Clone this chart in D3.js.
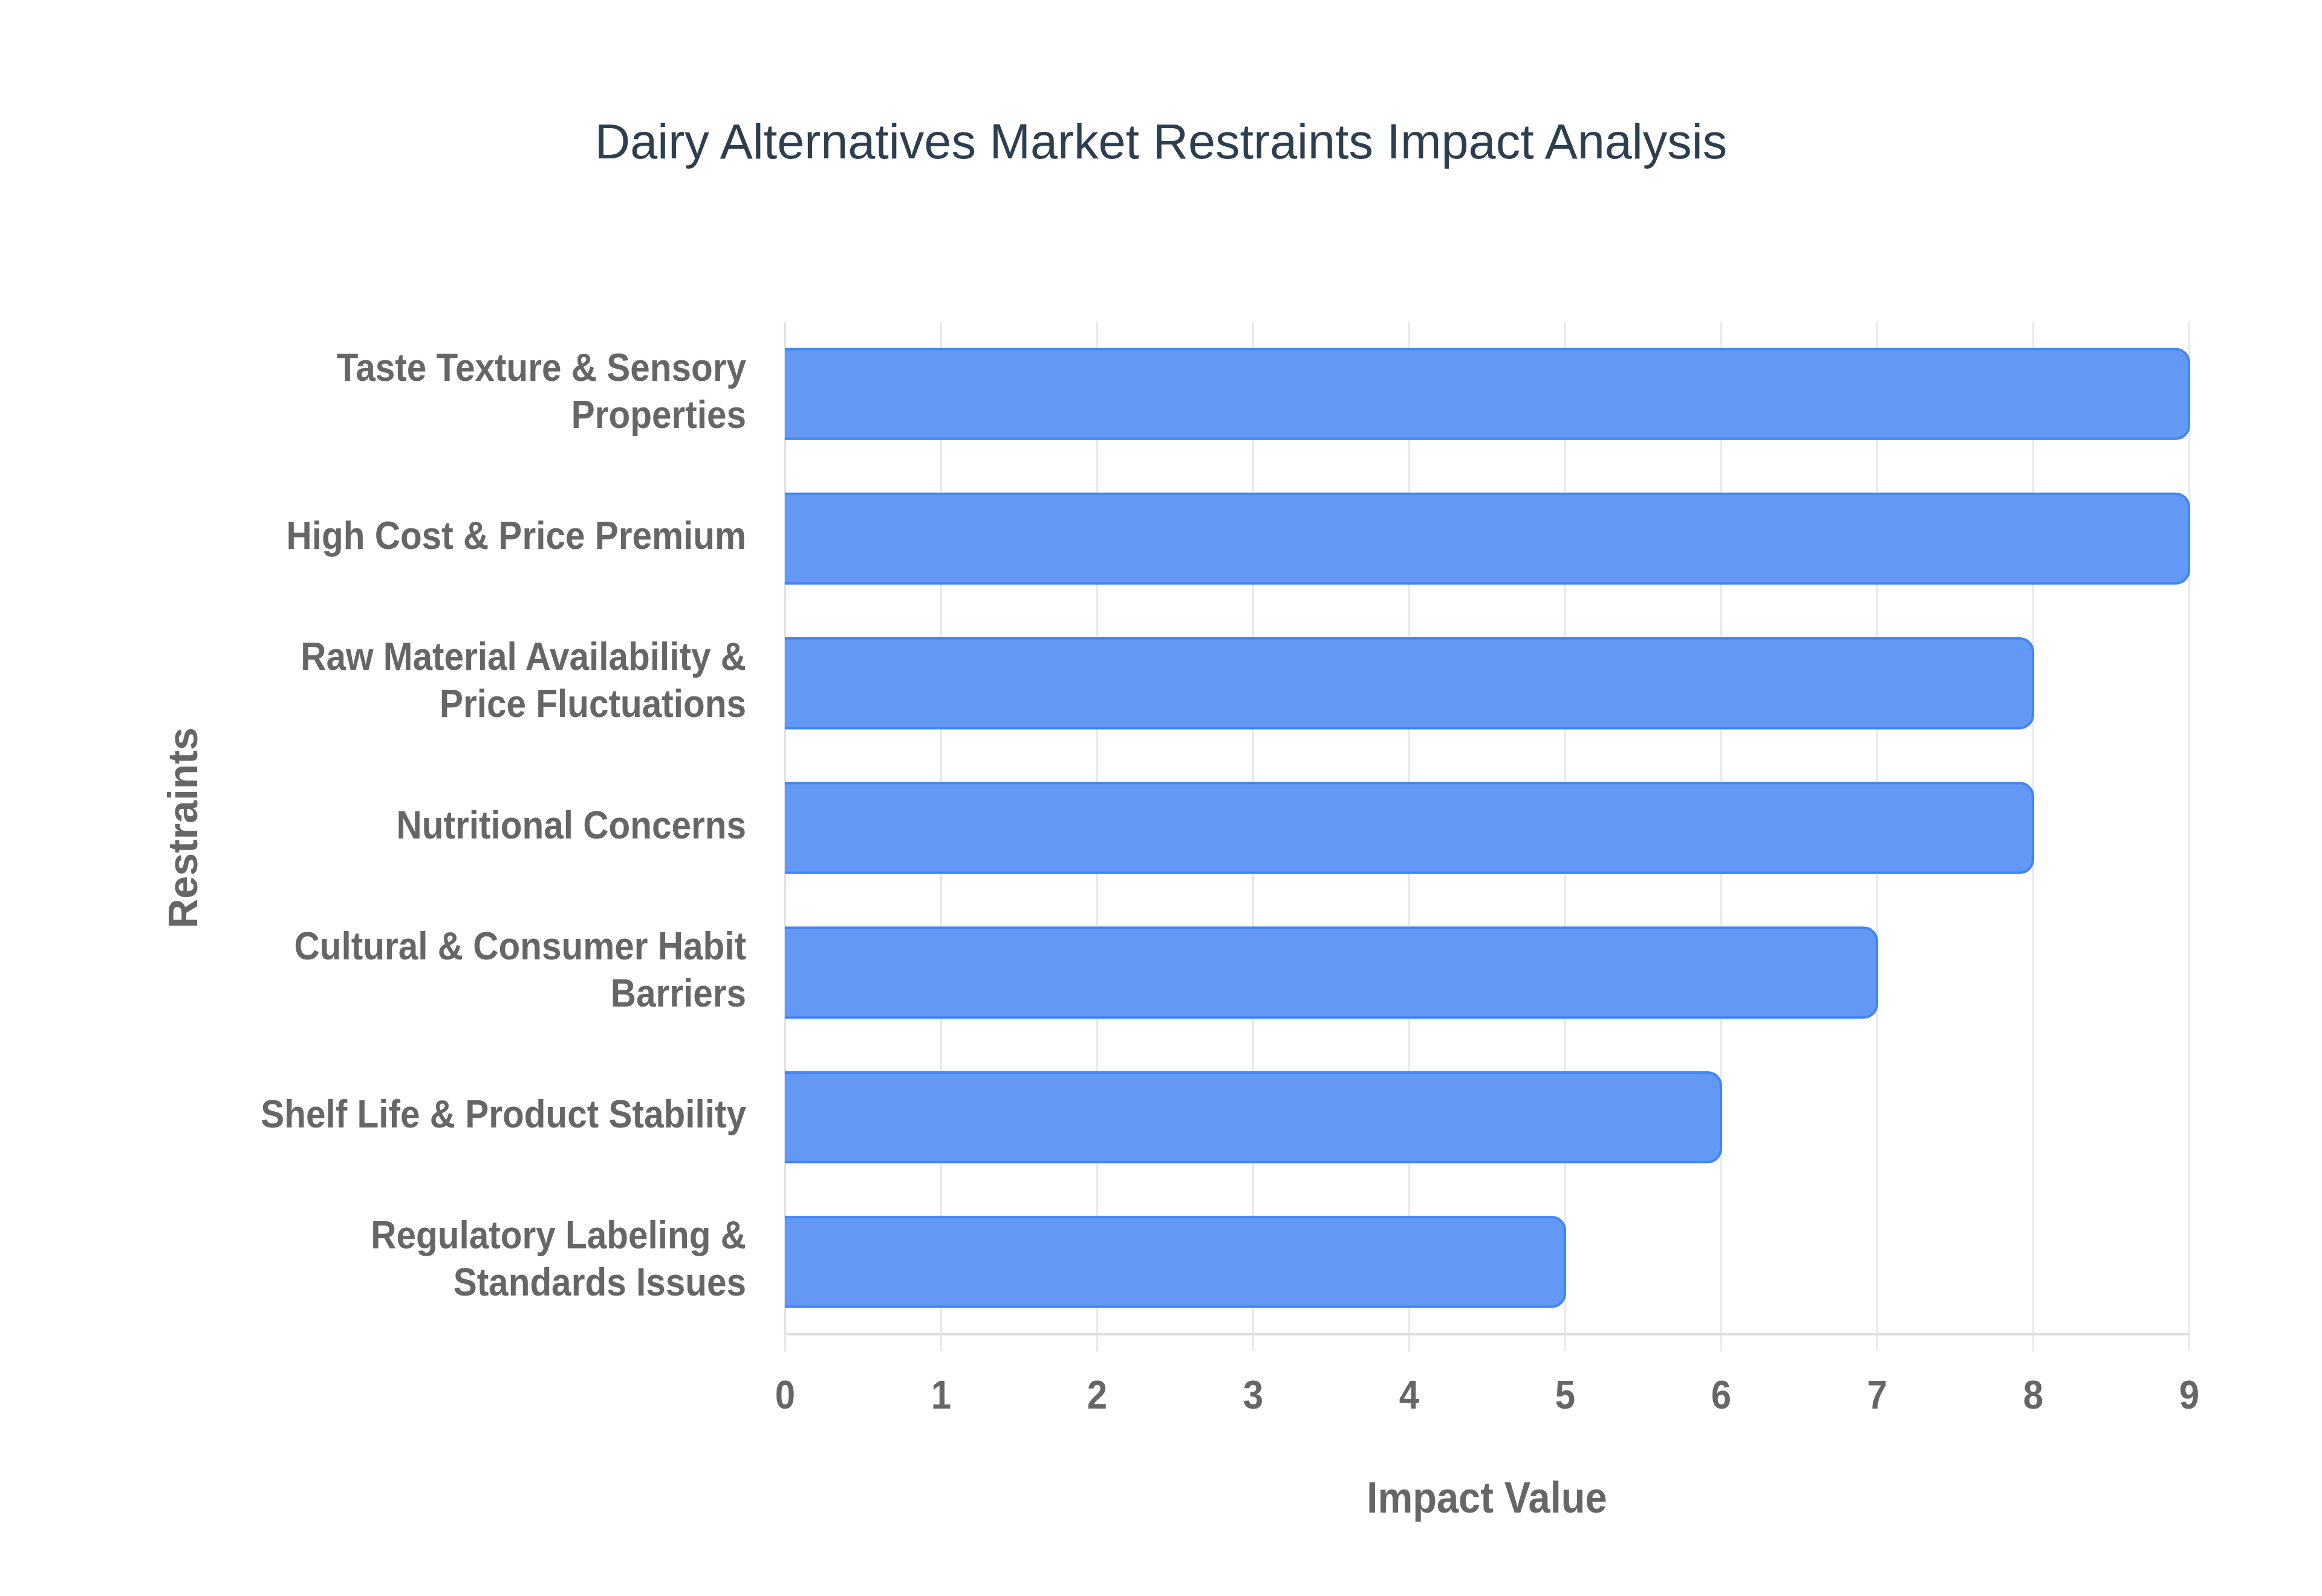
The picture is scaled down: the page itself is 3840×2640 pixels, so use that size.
<!DOCTYPE html>
<html>
<head>
<meta charset="utf-8">
<script src="https://cdn.jsdelivr.net/npm/d3@7"></script>
<style>
  html, body { margin: 0; padding: 0; background: #ffffff; }
  svg { display: block; font-family: "Liberation Sans", Arial, Helvetica, sans-serif; }
</style>
</head>
<body>
<div id="chart"></div>
<script>
'use strict';

// Data
const restraints = [
  'Taste Texture & Sensory Properties',
  'High Cost & Price Premium',
  'Raw Material Availability & Price Fluctuations',
  'Nutritional Concerns',
  'Cultural & Consumer Habit Barriers',
  'Shelf Life & Product Stability',
  'Regulatory Labeling & Standards Issues'
];
const restraintLabelLines = [
  ['Taste Texture & Sensory', 'Properties'],
  ['High Cost & Price Premium'],
  ['Raw Material Availability &', 'Price Fluctuations'],
  ['Nutritional Concerns'],
  ['Cultural & Consumer Habit', 'Barriers'],
  ['Shelf Life & Product Stability'],
  ['Regulatory Labeling &', 'Standards Issues']
];
const impactValues = [9, 9, 8, 8, 7, 6, 5];
const xTicks = [0, 1, 2, 3, 4, 5, 6, 7, 8, 9];

const chartTitle = 'Dairy Alternatives Market Restraints Impact Analysis';
const xTitle = 'Impact Value';
const yTitle = 'Restraints';

// Dimensions
const width = 3840;
const height = 2640;
const plot = { left: 1298, right: 3620, top: 532, bottom: 2207 };
const stretch = 1.1; // labels in the source look slightly tall

const svg = d3.select('#chart').append('svg')
  .attr('width', width)
  .attr('height', height);

// Scales
const x = d3.scaleLinear()
  .domain([0, 9])
  .range([plot.left, plot.right]);

const y = d3.scaleBand()
  .domain(restraints)
  .range([plot.top, plot.bottom])
  .paddingInner(0.38)
  .paddingOuter(0.19);

// Vertical grid lines + x tick labels
const tickOver = 28;
const xAxis = svg.append('g')
  .attr('transform', 'translate(0,' + (plot.bottom + tickOver) + ')')
  .call(d3.axisBottom(x)
    .tickValues(xTicks)
    .tickSizeInner(-(plot.bottom + tickOver - plot.top))
    .tickSizeOuter(0)
    .tickFormat(d3.format('d')));

xAxis.select('.domain').remove();
xAxis.selectAll('.tick line')
  .attr('stroke', '#e8e8e8')
  .attr('stroke-width', 3);
xAxis.selectAll('.tick text')
  .attr('transform', 'scale(1,' + stretch + ')')
  .attr('y', 95 / stretch)
  .attr('dy', 0)
  .attr('fill', '#666666')
  .attr('font-size', 60)
  .attr('font-weight', 'bold');

// Bottom axis border
svg.append('line')
  .attr('x1', plot.left)
  .attr('x2', plot.right)
  .attr('y1', plot.bottom)
  .attr('y2', plot.bottom)
  .attr('stroke', '#e0e0e0')
  .attr('stroke-width', 4);

// Left axis border
svg.append('line')
  .attr('x1', plot.left)
  .attr('x2', plot.left)
  .attr('y1', plot.top)
  .attr('y2', plot.bottom)
  .attr('stroke', '#e0e0e0')
  .attr('stroke-width', 3);

// Bars with rounded right end
const radius = 22;
function barPath(d, i, open) {
  const x0 = x(0);
  const x1 = x(d);
  const y0 = y(restraints[i]);
  const y1 = y0 + y.bandwidth();
  const r = Math.min(radius, (x1 - x0) / 2, y.bandwidth() / 2);
  const p = d3.path();
  p.moveTo(x0, y0);
  p.lineTo(x1 - r, y0);
  p.arcTo(x1, y0, x1, y0 + r, r);
  p.lineTo(x1, y1 - r);
  p.arcTo(x1, y1, x1 - r, y1, r);
  p.lineTo(x0, y1);
  if (!open) p.closePath();
  return p.toString();
}

const bars = svg.append('g').attr('class', 'bars');

bars.selectAll('.bar')
  .data(impactValues)
  .enter().append('path')
  .attr('class', 'bar')
  .attr('d', (d, i) => barPath(d, i, false))
  .attr('fill', '#6399f4');

bars.selectAll('.bar-border')
  .data(impactValues)
  .enter().append('path')
  .attr('class', 'bar-border')
  .attr('d', (d, i) => barPath(d, i, true))
  .attr('fill', 'none')
  .attr('stroke', '#4285f4')
  .attr('stroke-width', 4);

// Y axis labels (multi-line)
const yAxis = svg.append('g')
  .attr('transform', 'translate(' + plot.left + ',0)')
  .call(d3.axisLeft(y).tickSize(0).tickPadding(64));

yAxis.select('.domain').remove();

const lineGap = 78;
yAxis.selectAll('.tick text')
  .attr('transform', 'scale(1,' + stretch + ')')
  .attr('fill', '#666666')
  .attr('font-size', 58.5)
  .attr('font-weight', 'bold')
  .attr('dy', 0)
  .each(function (d) {
    const lines = restraintLabelLines[restraints.indexOf(d)];
    const t = d3.select(this).text(null);
    const first = 17 - (lines.length - 1) * lineGap / 2;
    lines.forEach((ln, k) => {
      t.append('tspan')
        .attr('x', -64)
        .attr('y', (first + k * lineGap) / stretch)
        .text(ln);
    });
  });

// Title
svg.append('text')
  .attr('x', width / 2)
  .attr('y', 262)
  .attr('text-anchor', 'middle')
  .attr('fill', '#2c3e50')
  .attr('font-size', 81)
  .text(chartTitle);

// X axis title
svg.append('text')
  .attr('transform', 'translate(' + ((plot.left + plot.right) / 2) + ',2502) scale(1,' + stretch + ')')
  .attr('text-anchor', 'middle')
  .attr('fill', '#666666')
  .attr('font-size', 65)
  .attr('font-weight', 'bold')
  .text(xTitle);

// Y axis title
svg.append('text')
  .attr('transform', 'translate(326,' + ((plot.top + plot.bottom) / 2) + ') rotate(-90)')
  .attr('text-anchor', 'middle')
  .attr('fill', '#666666')
  .attr('font-size', 68)
  .attr('font-weight', 'bold')
  .text(yTitle);
</script>
</body>
</html>
